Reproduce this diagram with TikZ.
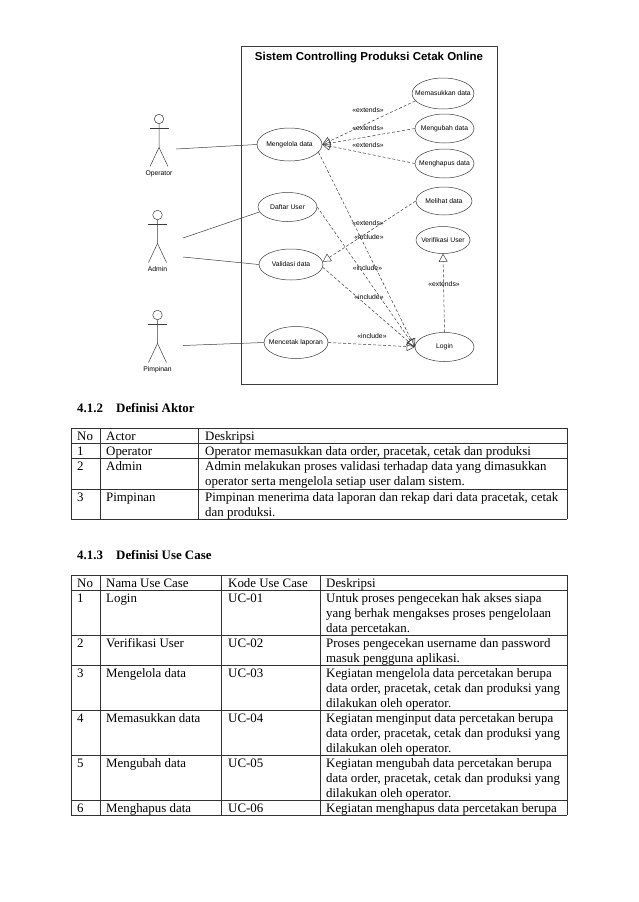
\documentclass[tikz,border=0pt]{standalone}
\usepackage{fontspec}
\setmainfont{Liberation Serif}
\newfontfamily\arialfont{Liberation Sans}
\usetikzlibrary{arrows.meta,positioning,shapes.geometric}
\definecolor{linegray}{RGB}{60,60,60}
\definecolor{tablegray}{RGB}{50,50,50}
\newcommand{\uclabel}[1]{\makebox[0pt]{#1}}
\tikzset{
  usecase/.style={draw=linegray, ellipse, fill=white, inner sep=0pt, line width=0.5pt, font=\arialfont\fontsize{6.8}{8}\selectfont},
  stereo/.style={inner sep=0pt, font=\arialfont\fontsize{6.8}{8}\selectfont},
  assoc/.style={draw=linegray, line width=0.5pt},
  depend/.style={draw=linegray, line width=0.5pt, dash pattern=on 3pt off 2pt, -{Triangle[open,length=8pt,width=9pt]}},
  cell/.style={anchor=north west, inner sep=0pt, text width=#1, align=flush left, font=\fontsize{12.9}{14.9}\selectfont, execute at begin node=\strut},
  heading/.style={anchor=base west, inner sep=0pt, font=\bfseries\fontsize{12.9}{15}\selectfont},
  rule/.style={draw=tablegray, line width=0.8pt}
}
\begin{document}
\begin{tikzpicture}[x=1pt,y=-1pt]
\useasboundingbox (0,0) rectangle (638,902);
% system boundary
\node[draw=linegray, line width=0.9pt, minimum width=256pt, minimum height=338pt, inner sep=0pt] (system) at (369,215) {};
\node[inner sep=0pt, font=\arialfont\bfseries\fontsize{11.5}{13}\selectfont] (title) at (369,58) {Sistem Controlling Produksi Cetak Online};
% use cases
\node[usecase, minimum width=62pt, minimum height=31pt] (memasukkan) at (443,93.5) {\uclabel{Memasukkan data}};
\node[usecase, minimum width=59pt, minimum height=29pt] (mengubah) at (444.5,128.5) {\uclabel{Mengubah data}};
\node[usecase, minimum width=59pt, minimum height=29pt] (menghapus) at (444.5,163.5) {\uclabel{Menghapus data}};
\node[usecase, minimum width=56pt, minimum height=28pt] (melihat) at (444,201) {\uclabel{Melihat data}};
\node[usecase, minimum width=54pt, minimum height=27pt] (verifikasi) at (443,240) {\uclabel{Verifikasi User}};
\node[usecase, minimum width=59pt, minimum height=29pt] (login) at (444.5,347) {\uclabel{Login}};
\node[usecase, minimum width=65pt, minimum height=33pt] (mengelola) at (289.5,144.5) {\uclabel{Mengelola data}};
\node[usecase, minimum width=59pt, minimum height=29pt] (daftar) at (287.5,207) {\uclabel{Daftar User}};
\node[usecase, minimum width=64pt, minimum height=31pt] (validasi) at (291,264.5) {\uclabel{Validasi data}};
\node[usecase, minimum width=64pt, minimum height=32pt] (mencetak) at (296,342.5) {\uclabel{Mencetak laporan}};
% actors
\foreach \name/\x/\y/\lbl in {operator/159/119/Operator, admin/157.5/215/Admin, pimpinan/157.5/315/Pimpinan} {
  \node[draw=linegray, circle, line width=0.5pt, minimum size=9.5pt, inner sep=0pt] (\name head) at (\x,\y) {};
  \draw[assoc] (\name head.south) -- ++(0,23.5) coordinate (\name hip) -- ++(-9,19);
  \draw[assoc] (\name hip) -- ++(9,19);
  \draw[assoc] (\x-9.5,\y+9.5) -- (\x+9.5,\y+9.5);
  \node[stereo] (\name label) at (\x,\y+54.5) {\lbl};
}
\coordinate (operator hand) at (176,149);
\coordinate (admin hand up) at (183,238);
\coordinate (admin hand down) at (183,257);
\coordinate (pimpinan hand) at (183,345.5);
\draw[assoc] (operator hand) -- (mengelola.west);
\draw[assoc] (admin hand up) -- (daftar.190);
\draw[assoc] (admin hand down) -- (validasi.west);
\draw[assoc] (pimpinan hand) -- (mencetak.west);
% dependencies
\draw[depend] (memasukkan.195) -- (mengelola.east);
\draw[depend] (mengubah.west) -- (mengelola.east);
\draw[depend] (menghapus.west) -- (mengelola.east);
\draw[depend] (melihat.west) -- (validasi.5);
\draw[depend] (login.north) -- (verifikasi.south);
\draw[depend] (mengelola.-15) -- (login.west);
\draw[depend] (daftar.east) -- (login.west);
\draw[depend] (validasi.-5) -- (login.west);
\draw[depend] (mencetak.east) -- (login.west);
% stereotypes
\node[stereo] (ext a) at (368,110) {«extends»};
\node[stereo] (ext b) at (368,128) {«extends»};
\node[stereo] (ext c) at (368,145) {«extends»};
\node[stereo] (ext d) at (368,223) {«extends»};
\node[stereo] (ext e) at (444,284) {«extends»};
\node[stereo] (inc a) at (369,237) {«include»};
\node[stereo] (inc b) at (367.5,268) {«include»};
\node[stereo] (inc c) at (369,297) {«include»};
\node[stereo] (inc d) at (372,336) {«include»};
% definisi aktor
\node[heading] (aktor no) at (77,412) {4.1.2};
\node[heading] (aktor head) at (116,412) {Definisi Aktor};
\foreach \y in {428,443,458,489,519} \draw[rule] (71,\y) -- (567,\y);
\foreach \x in {71,100,198,567} \draw[rule] (\x,428) -- (\x,519);
\foreach \row/\no/\actor/\desk/\y in {
  h/No/Actor/{Deskripsi}/428,
  a/1/Operator/{Operator memasukkan data order, pracetak, cetak dan produksi}/443,
  b/2/Admin/{Admin melakukan proses validasi terhadap data yang dimasukkan\\operator serta mengelola setiap user dalam sistem.}/458,
  c/3/Pimpinan/{Pimpinan menerima data laporan dan rekap dari data pracetak, cetak\\dan produksi.}/489} {
  \node[cell=20pt] (aktor \row no) at (77,\y+2) {\no};
  \node[cell=88pt] (aktor \row name) at (106,\y+2) {\actor};
  \node[cell=358pt] (aktor \row desk) at (205,\y+2) {\desk};
}
% definisi use case
\node[heading] (uc no) at (77,559) {4.1.3};
\node[heading] (uc head) at (116,559) {Definisi Use Case};
\foreach \y in {575,590,635,665,710,755,800,815} \draw[rule] (71,\y) -- (567,\y);
\foreach \x in {71,100,221,320,567} \draw[rule] (\x,575) -- (\x,815);
\foreach \row/\no/\nama/\kode/\desk/\y in {
  h/No/Nama Use Case/Kode Use Case/{Deskripsi}/575,
  a/1/Login/UC-01/{Untuk proses pengecekan hak akses siapa\\yang berhak mengakses proses pengelolaan\\data percetakan.}/590,
  b/2/Verifikasi User/UC-02/{Proses pengecekan username dan password\\masuk pengguna aplikasi.}/635,
  c/3/Mengelola data/UC-03/{Kegiatan mengelola data percetakan berupa\\data order, pracetak, cetak dan produksi yang\\dilakukan oleh operator.}/665,
  d/4/Memasukkan data/UC-04/{Kegiatan menginput data percetakan berupa\\data order, pracetak, cetak dan produksi yang\\dilakukan oleh operator.}/710,
  e/5/Mengubah data/UC-05/{Kegiatan mengubah data percetakan berupa\\data order, pracetak, cetak dan produksi yang\\dilakukan oleh operator.}/755,
  f/6/Menghapus data/UC-06/{Kegiatan menghapus data percetakan berupa}/800} {
  \node[cell=20pt] (uc \row no) at (77,\y+2) {\no};
  \node[cell=112pt] (uc \row name) at (106,\y+2) {\nama};
  \node[cell=90pt] (uc \row kode) at (228,\y+2) {\kode};
  \node[cell=240pt] (uc \row desk) at (326,\y+2) {\desk};
}
\end{tikzpicture}
\end{document}
